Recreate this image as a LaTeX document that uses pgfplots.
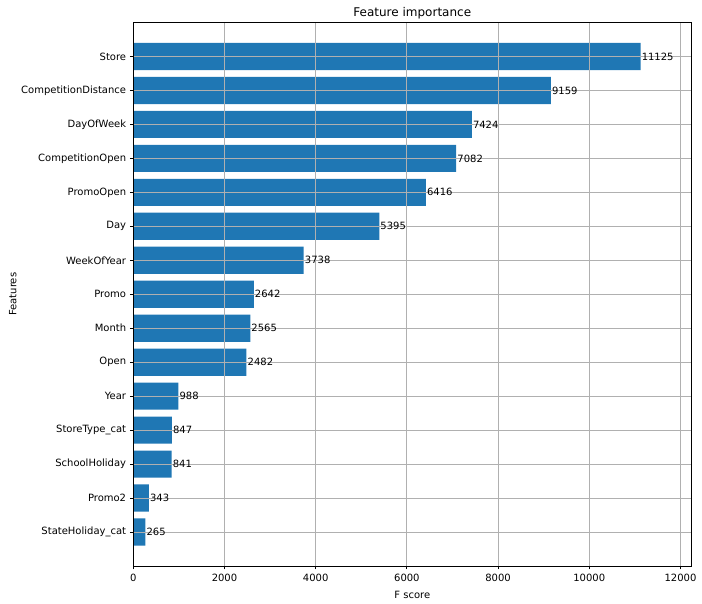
\documentclass[border=0pt]{standalone}
\usepackage{fontspec}
\setmainfont{DejaVu Sans}
\usepackage{pgfplots}
\pgfplotsset{compat=1.18}
\definecolor{barblue}{HTML}{1F77B4}
\definecolor{gridgray}{HTML}{B0B0B0}
\begin{document}
\begin{tikzpicture}
\useasboundingbox (-133.3bp,-38bp) rectangle (568.7bp,566bp);
\begin{axis}[
  at={(0,0)}, anchor=south west,
  scale only axis,
  width=558bp, height=543.5bp,
  font=\fontsize{10bp}{12bp}\selectfont,
  xbar, bar width=0.8,
  xmin=0, xmax=12237.5,
  ymin=-1, ymax=15,
  xtick={0,2000,4000,6000,8000,10000,12000},
  scaled x ticks=false,
  ytick={0,...,14},
  yticklabels={StateHoliday\_cat,Promo2,SchoolHoliday,StoreType\_cat,Year,Open,Month,Promo,WeekOfYear,Day,PromoOpen,CompetitionOpen,DayOfWeek,CompetitionDistance,Store},
  /pgf/number format/1000 sep={},
  /pgf/number format/assume math mode=true,
  tick align=outside, tick pos=left,
  major tick length=3.5bp,
  tick style={black, line width=0.8bp},
  axis line style={black, line width=0.8bp},
  xmajorgrids, ymajorgrids,
  grid style={gridgray, line width=0.8bp},
  axis on top,
  xticklabel style={inner sep=0pt, yshift=-4.5bp, anchor=north},
  yticklabel style={inner sep=0pt, xshift=-3.5bp, anchor=east},
  title={Feature importance},
  title style={font=\fontsize{12bp}{14bp}\selectfont, inner sep=0pt, at={(0.5,1)}, anchor=base, yshift=0.5bp},
  xlabel={F score},
  xlabel style={inner sep=0pt, at={(0.5,0)}, anchor=base, yshift=-32bp},
  ylabel={Features},
  ylabel style={inner sep=0pt, at={(0,0.5)}, anchor=base, yshift=117bp},
  nodes near coords,
  nodes near coords style={anchor=west, inner sep=1bp, black, font=\fontsize{10bp}{12bp}\selectfont},
  point meta=explicit symbolic,
]
\addplot[draw=none, fill=barblue] table[x=v, y=i, meta=v] {
i v
0 265
1 343
2 841
3 847
4 988
5 2482
6 2565
7 2642
8 3738
9 5395
10 6416
11 7082
12 7424
13 9159
14 11125
};
\end{axis}
\end{tikzpicture}
\end{document}
